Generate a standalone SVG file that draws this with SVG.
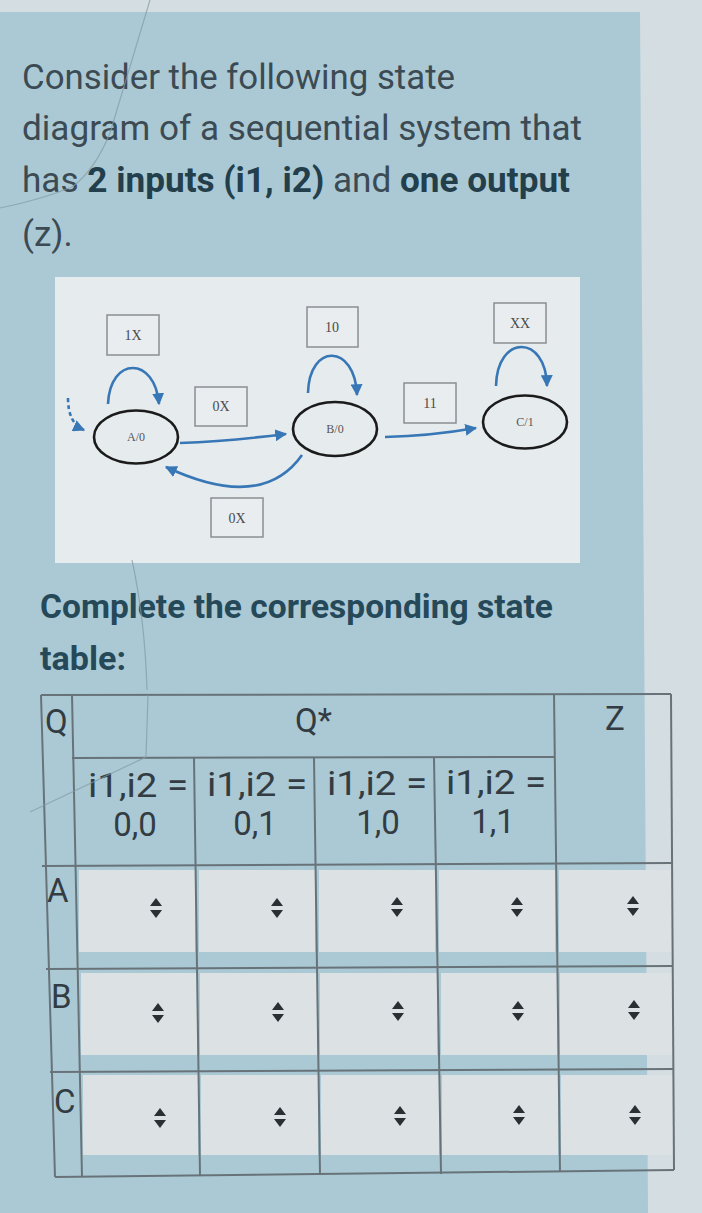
<svg xmlns="http://www.w3.org/2000/svg" width="702" height="1213" viewBox="0 0 702 1213">
<defs>
<style>
.title{font-family:Roboto,"Liberation Sans",sans-serif;font-size:35px;fill:#3c4b53}
.b{font-weight:700;fill:#233f4b}
.prompt{font-family:Roboto,"Liberation Sans",sans-serif;font-size:34px;font-weight:700;fill:#26495a}
.lbl{fill:#e9edef;stroke:#8a8f93;stroke-width:1.5}
.lt{font-family:"Liberation Serif","DejaVu Serif",serif;font-size:14px;fill:#4a4a4a;text-anchor:middle}
.st{fill:none;stroke:#1b1b1b;stroke-width:2.6}
.stt{font-family:"Liberation Serif","DejaVu Serif",serif;font-size:12px;fill:#555;text-anchor:middle}
.edge{fill:none;stroke:#3877b6;stroke-width:2.6}
.tl{stroke:#687379;stroke-width:2;fill:none}
.th{font-family:Roboto,"Liberation Sans",sans-serif;font-size:33px;fill:#323c42}
.sub{font-family:Roboto,"Liberation Sans",sans-serif;font-size:33px;fill:#323c42;text-anchor:middle}
.sel{fill:#dce1e4}
.ico{fill:#2a2f33}
.scr{fill:none;stroke:#7f9aa6;stroke-width:1.2;opacity:0.7}
</style>
<marker id="ah" viewBox="0 0 10 10" refX="9" refY="5" markerWidth="4.6" markerHeight="4.6" orient="auto" markerUnits="strokeWidth">
<path d="M0,0 L10,5 L0,10 z" fill="#3877b6"/>
</marker>
<g id="spin"><path class="ico" d="M-6,-2 L6,-2 L0,-10 z M-6,2 L6,2 L0,10 z"/></g>
</defs>

<!-- backgrounds -->
<rect x="0" y="0" width="702" height="1213" fill="#d4dde2"/>
<polygon points="0,12 640,12 648,1213 0,1213" fill="#abc9d5"/>

<!-- title -->
<text class="title" x="22" y="89" textLength="433" lengthAdjust="spacingAndGlyphs">Consider the following state</text>
<text class="title" x="22" y="140" textLength="560" lengthAdjust="spacingAndGlyphs">diagram of a sequential system that</text>
<text class="title" x="22" y="192" textLength="548" lengthAdjust="spacingAndGlyphs">has <tspan class="b">2 inputs (i1, i2)</tspan> and <tspan class="b">one output</tspan></text>
<text class="title" x="22" y="246">(z).</text>

<!-- diagram panel -->
<rect x="55" y="277" width="525" height="286" fill="#e6ebee"/>

<g id="connectors">
<path class="edge" d="M108,404 C110,356 155,356 159,404" marker-end="url(#ah)"/>
<path class="edge" d="M308,393 C309,343 355,343 357,395" marker-end="url(#ah)"/>
<path class="edge" d="M496,386 C497,334 546,334 547,386" marker-end="url(#ah)"/>
<path class="edge" d="M180,443 Q230,441 286,434" marker-end="url(#ah)"/>
<path class="edge" d="M385,437 Q430,436 476,428" marker-end="url(#ah)"/>
<path class="edge" d="M302,455 Q262,512 166,467" marker-end="url(#ah)"/>
<path class="edge" d="M68,398 Q68,423 84,430" stroke-dasharray="4,3" stroke-width="2" marker-end="url(#ah)"/>
</g>

<g id="label-1X"><rect class="lbl" x="107" y="315" width="52" height="40"/><text class="lt" x="133" y="340">1X</text></g>
<g id="label-10"><rect class="lbl" x="307" y="307" width="51" height="40"/><text class="lt" x="332" y="332">10</text></g>
<g id="label-XX"><rect class="lbl" x="494" y="303" width="52" height="40"/><text class="lt" x="520" y="328">XX</text></g>
<g id="label-0X-top"><rect class="lbl" x="195" y="387" width="52" height="39"/><text class="lt" x="221" y="411">0X</text></g>
<g id="label-11"><rect class="lbl" x="404" y="383" width="52" height="40"/><text class="lt" x="430" y="408">11</text></g>
<g id="label-0X-bottom"><rect class="lbl" x="211" y="498" width="52" height="39"/><text class="lt" x="237" y="523">0X</text></g>

<g id="stateA"><ellipse class="st" cx="136" cy="437" rx="42" ry="26.5"/><text class="stt" x="136" y="441">A/0</text></g>
<g id="stateB"><ellipse class="st" cx="335" cy="429" rx="42" ry="27"/><text class="stt" x="335" y="433">B/0</text></g>
<g id="stateC"><ellipse class="st" cx="525" cy="422" rx="42" ry="26.5"/><text class="stt" x="525" y="426">C/1</text></g>

<!-- prompt -->
<text class="prompt" x="40" y="618" textLength="513" lengthAdjust="spacingAndGlyphs">Complete the corresponding state</text>
<text class="prompt" x="40" y="670" textLength="86" lengthAdjust="spacingAndGlyphs">table:</text>

<!-- table cells (select boxes) -->
<g id="cells">
<rect class="sel" x="79" y="870" width="116" height="82"/>
<rect class="sel" x="199" y="870" width="116" height="82"/>
<rect class="sel" x="319" y="870" width="116" height="82"/>
<rect class="sel" x="439" y="870" width="116" height="82"/>
<rect class="sel" x="559" y="870" width="112" height="82"/>
<rect class="sel" x="81" y="973" width="116" height="82"/>
<rect class="sel" x="200" y="973" width="117" height="82"/>
<rect class="sel" x="320" y="973" width="117" height="82"/>
<rect class="sel" x="441" y="973" width="116" height="82"/>
<rect class="sel" x="560" y="973" width="112" height="82"/>
<rect class="sel" x="83" y="1075" width="115" height="80"/>
<rect class="sel" x="201" y="1075" width="117" height="80"/>
<rect class="sel" x="321" y="1075" width="118" height="80"/>
<rect class="sel" x="442" y="1075" width="116" height="80"/>
<rect class="sel" x="561" y="1075" width="112" height="80"/>
<rect x="648" y="952" width="25" height="17" fill="#d4dde2"/>
<rect x="648" y="1055" width="25" height="16" fill="#d4dde2"/>
<rect x="648" y="1155" width="26" height="17" fill="#d4dde2"/>
</g>

<g id="spinners">
<use href="#spin" x="156" y="908"/><use href="#spin" x="277" y="908"/><use href="#spin" x="397" y="907"/><use href="#spin" x="517" y="907"/><use href="#spin" x="633" y="906"/>
<use href="#spin" x="158" y="1013"/><use href="#spin" x="278" y="1012"/><use href="#spin" x="398" y="1011"/><use href="#spin" x="518" y="1011"/><use href="#spin" x="634" y="1010"/>
<use href="#spin" x="160" y="1118"/><use href="#spin" x="280" y="1117"/><use href="#spin" x="400" y="1116"/><use href="#spin" x="519" y="1115"/><use href="#spin" x="635" y="1115"/>
</g>

<!-- table grid -->
<g id="grid">
<line class="tl" x1="41" y1="695" x2="671" y2="694"/>
<line class="tl" x1="72" y1="758" x2="554" y2="757"/>
<line class="tl" x1="42" y1="866" x2="672" y2="863"/>
<line class="tl" x1="46" y1="969" x2="673" y2="966"/>
<line class="tl" x1="50" y1="1072" x2="673" y2="1069"/>
<line class="tl" x1="55" y1="1177" x2="674" y2="1170"/>
<line class="tl" x1="41" y1="695" x2="55" y2="1177"/>
<line class="tl" x1="72" y1="695" x2="82" y2="1177"/>
<line class="tl" x1="194" y1="758" x2="200" y2="1176"/>
<line class="tl" x1="314" y1="758" x2="320" y2="1175"/>
<line class="tl" x1="434" y1="758" x2="441" y2="1174"/>
<line class="tl" x1="554" y1="694" x2="560" y2="1172"/>
<line class="tl" x1="671" y1="694" x2="674" y2="1170"/>
</g>

<!-- header texts -->
<g id="header">
<text class="th" x="45" y="733">Q</text>
<text class="th" x="295" y="732">Q*</text>
<text class="th" x="605" y="730">Z</text>
<text class="sub" x="138" y="797" textLength="100" lengthAdjust="spacingAndGlyphs">i1,i2 =</text>
<text class="sub" x="135" y="836">0,0</text>
<text class="sub" x="257" y="796" textLength="100" lengthAdjust="spacingAndGlyphs">i1,i2 =</text>
<text class="sub" x="255" y="835">0,1</text>
<text class="sub" x="377" y="795" textLength="100" lengthAdjust="spacingAndGlyphs">i1,i2 =</text>
<text class="sub" x="378" y="834">1,0</text>
<text class="sub" x="496" y="794" textLength="100" lengthAdjust="spacingAndGlyphs">i1,i2 =</text>
<text class="sub" x="493" y="833">1,1</text>
<text class="th" x="47" y="902">A</text>
<text class="th" x="51" y="1008">B</text>
<text class="th" x="54" y="1113">C</text>
</g>

<!-- screen scratches visible in the photo -->
<path class="scr" d="M150,0 L110,133 Q95,170 72,187 Q40,200 0,208"/>
<path class="scr" d="M132,560 Q145,620 147,690"/>
<path class="scr" d="M148,695 L146,757 L30,812"/>
</svg>
